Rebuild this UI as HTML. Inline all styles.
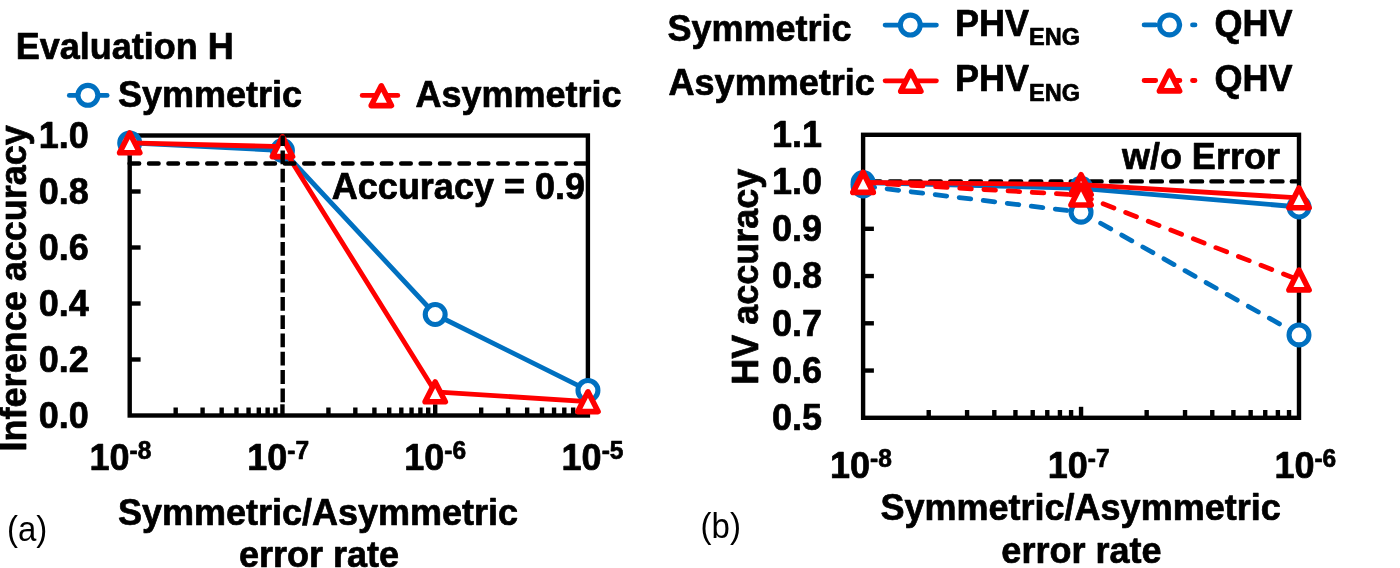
<!DOCTYPE html>
<html><head><meta charset="utf-8"><title>Evaluation H</title>
<style>html,body{margin:0;padding:0;background:#fff;}svg{display:block;}
text{font-family:"Liberation Sans",Arial,Helvetica,sans-serif;fill:#000;}text[font-weight=bold]{stroke:#000;stroke-width:0.7px;stroke-linejoin:round;}</style></head>
<body><svg width="1400" height="568" viewBox="0 0 1400 568">
<rect width="1400" height="568" fill="#fff"/>
<text transform="translate(15.80,58.60) scale(1,1.05)" font-size="36" font-weight="bold" text-anchor="start">Evaluation H</text>
<path d="M69.3,95.4 L107.1,95.4" fill="none" stroke="#0070C0" stroke-width="4.8" stroke-linecap="round" stroke-linejoin="round"/>
<circle cx="87.90" cy="95.30" r="9.95" fill="#fff" stroke="#0070C0" stroke-width="5.1"/>
<text transform="translate(117.90,106.50) scale(1,1.05)" font-size="36" font-weight="bold" text-anchor="start">Symmetric</text>
<path d="M362.2,95.4 L397.8,95.4" fill="none" stroke="#FF0000" stroke-width="4.8" stroke-linecap="round" stroke-linejoin="round"/>
<path d="M381.30,85.80 L391.40,105.60 L371.20,105.60 Z" fill="#fff" stroke="#FF0000" stroke-width="5.6" stroke-linejoin="round"/>
<text transform="translate(415.50,106.50) scale(1,1.05)" font-size="36" font-weight="bold" text-anchor="start">Asymmetric</text>
<rect x="129.7" y="135.5" width="458.20" height="280.00" fill="none" stroke="#000" stroke-width="4.4"/>
<line x1="129.70" y1="359.50" x2="140.60" y2="359.50" stroke="#000" stroke-width="4.4" stroke-linecap="butt"/>
<line x1="129.70" y1="303.50" x2="140.60" y2="303.50" stroke="#000" stroke-width="4.4" stroke-linecap="butt"/>
<line x1="129.70" y1="247.50" x2="140.60" y2="247.50" stroke="#000" stroke-width="4.4" stroke-linecap="butt"/>
<line x1="129.70" y1="191.50" x2="140.60" y2="191.50" stroke="#000" stroke-width="4.4" stroke-linecap="butt"/>
<line x1="175.68" y1="415.50" x2="175.68" y2="407.50" stroke="#000" stroke-width="4.4" stroke-linecap="butt"/>
<line x1="202.58" y1="415.50" x2="202.58" y2="407.50" stroke="#000" stroke-width="4.4" stroke-linecap="butt"/>
<line x1="221.66" y1="415.50" x2="221.66" y2="407.50" stroke="#000" stroke-width="4.4" stroke-linecap="butt"/>
<line x1="236.47" y1="415.50" x2="236.47" y2="407.50" stroke="#000" stroke-width="4.4" stroke-linecap="butt"/>
<line x1="248.56" y1="415.50" x2="248.56" y2="407.50" stroke="#000" stroke-width="4.4" stroke-linecap="butt"/>
<line x1="258.79" y1="415.50" x2="258.79" y2="407.50" stroke="#000" stroke-width="4.4" stroke-linecap="butt"/>
<line x1="267.65" y1="415.50" x2="267.65" y2="407.50" stroke="#000" stroke-width="4.4" stroke-linecap="butt"/>
<line x1="275.46" y1="415.50" x2="275.46" y2="407.50" stroke="#000" stroke-width="4.4" stroke-linecap="butt"/>
<line x1="328.43" y1="415.50" x2="328.43" y2="407.50" stroke="#000" stroke-width="4.4" stroke-linecap="butt"/>
<line x1="355.33" y1="415.50" x2="355.33" y2="407.50" stroke="#000" stroke-width="4.4" stroke-linecap="butt"/>
<line x1="374.41" y1="415.50" x2="374.41" y2="407.50" stroke="#000" stroke-width="4.4" stroke-linecap="butt"/>
<line x1="389.22" y1="415.50" x2="389.22" y2="407.50" stroke="#000" stroke-width="4.4" stroke-linecap="butt"/>
<line x1="401.31" y1="415.50" x2="401.31" y2="407.50" stroke="#000" stroke-width="4.4" stroke-linecap="butt"/>
<line x1="411.54" y1="415.50" x2="411.54" y2="407.50" stroke="#000" stroke-width="4.4" stroke-linecap="butt"/>
<line x1="420.40" y1="415.50" x2="420.40" y2="407.50" stroke="#000" stroke-width="4.4" stroke-linecap="butt"/>
<line x1="428.21" y1="415.50" x2="428.21" y2="407.50" stroke="#000" stroke-width="4.4" stroke-linecap="butt"/>
<line x1="481.18" y1="415.50" x2="481.18" y2="407.50" stroke="#000" stroke-width="4.4" stroke-linecap="butt"/>
<line x1="508.08" y1="415.50" x2="508.08" y2="407.50" stroke="#000" stroke-width="4.4" stroke-linecap="butt"/>
<line x1="527.16" y1="415.50" x2="527.16" y2="407.50" stroke="#000" stroke-width="4.4" stroke-linecap="butt"/>
<line x1="541.97" y1="415.50" x2="541.97" y2="407.50" stroke="#000" stroke-width="4.4" stroke-linecap="butt"/>
<line x1="554.06" y1="415.50" x2="554.06" y2="407.50" stroke="#000" stroke-width="4.4" stroke-linecap="butt"/>
<line x1="564.29" y1="415.50" x2="564.29" y2="407.50" stroke="#000" stroke-width="4.4" stroke-linecap="butt"/>
<line x1="573.15" y1="415.50" x2="573.15" y2="407.50" stroke="#000" stroke-width="4.4" stroke-linecap="butt"/>
<line x1="580.96" y1="415.50" x2="580.96" y2="407.50" stroke="#000" stroke-width="4.4" stroke-linecap="butt"/>
<line x1="282.45" y1="415.50" x2="282.45" y2="404.30" stroke="#000" stroke-width="4.4" stroke-linecap="butt"/>
<line x1="435.20" y1="415.50" x2="435.20" y2="404.30" stroke="#000" stroke-width="4.4" stroke-linecap="butt"/>
<text transform="translate(88.80,147.90) scale(1,1.05)" font-size="36" font-weight="bold" text-anchor="end">1.0</text>
<text transform="translate(88.80,203.90) scale(1,1.05)" font-size="36" font-weight="bold" text-anchor="end">0.8</text>
<text transform="translate(88.80,259.90) scale(1,1.05)" font-size="36" font-weight="bold" text-anchor="end">0.6</text>
<text transform="translate(88.80,315.90) scale(1,1.05)" font-size="36" font-weight="bold" text-anchor="end">0.4</text>
<text transform="translate(88.80,371.90) scale(1,1.05)" font-size="36" font-weight="bold" text-anchor="end">0.2</text>
<text transform="translate(88.80,427.90) scale(1,1.05)" font-size="36" font-weight="bold" text-anchor="end">0.0</text>
<text transform="translate(89.50,470.2) scale(1,1.05)" font-size="36" font-weight="bold">10<tspan font-size="24.5" dy="-10.6">-8</tspan></text>
<text transform="translate(247.20,470.2) scale(1,1.05)" font-size="36" font-weight="bold">10<tspan font-size="24.5" dy="-10.6">-7</tspan></text>
<text transform="translate(404.30,470.2) scale(1,1.05)" font-size="36" font-weight="bold">10<tspan font-size="24.5" dy="-10.6">-6</tspan></text>
<text transform="translate(561.60,470.2) scale(1,1.05)" font-size="36" font-weight="bold">10<tspan font-size="24.5" dy="-10.6">-5</tspan></text>
<text transform="translate(26.30,288.30) rotate(-90) scale(1,1.05)" font-size="36" font-weight="bold" text-anchor="middle">Inference accuracy</text>
<text transform="translate(318.00,525.30) scale(1,1.05)" font-size="36" font-weight="bold" text-anchor="middle">Symmetric/Asymmetric</text>
<text transform="translate(319.00,567.30) scale(1,1.05)" font-size="36" font-weight="bold" text-anchor="middle">error rate</text>
<text transform="translate(6.90,541.30) scale(1,1.05)" font-size="33" font-weight="normal" text-anchor="start">(a)</text>
<path d="M129.70,142.90 L282.45,150.50 L435.20,314.50 L587.95,390.40" fill="none" stroke="#0070C0" stroke-width="4.8" stroke-linecap="round" stroke-linejoin="round"/>
<circle cx="129.70" cy="142.90" r="9.95" fill="#fff" stroke="#0070C0" stroke-width="5.1"/>
<circle cx="282.45" cy="150.50" r="9.95" fill="#fff" stroke="#0070C0" stroke-width="5.1"/>
<circle cx="435.20" cy="314.50" r="9.95" fill="#fff" stroke="#0070C0" stroke-width="5.1"/>
<circle cx="587.95" cy="390.40" r="9.95" fill="#fff" stroke="#0070C0" stroke-width="5.1"/>
<path d="M129.70,142.80 L282.45,146.70 L435.20,391.80 L587.95,401.70" fill="none" stroke="#FF0000" stroke-width="4.8" stroke-linecap="round" stroke-linejoin="round"/>
<path d="M129.70,132.90 L139.80,152.70 L119.60,152.70 Z" fill="#fff" stroke="#FF0000" stroke-width="5.6" stroke-linejoin="round"/>
<path d="M282.45,136.80 L292.55,156.60 L272.35,156.60 Z" fill="#fff" stroke="#FF0000" stroke-width="5.6" stroke-linejoin="round"/>
<path d="M435.20,381.90 L445.30,401.70 L425.10,401.70 Z" fill="#fff" stroke="#FF0000" stroke-width="5.6" stroke-linejoin="round"/>
<path d="M587.95,391.80 L598.05,411.60 L577.85,411.60 Z" fill="#fff" stroke="#FF0000" stroke-width="5.6" stroke-linejoin="round"/>
<line x1="129.60" y1="163.50" x2="587.90" y2="163.50" stroke="#000" stroke-width="4.4" stroke-linecap="round" stroke-dasharray="9.6 9.8"/>
<line x1="282.70" y1="402.20" x2="282.70" y2="135.50" stroke="#000" stroke-width="4.4" stroke-linecap="butt" stroke-dasharray="13.8 4.5"/>
<text transform="translate(585.00,198.60) scale(1,1.05)" font-size="36" font-weight="bold" text-anchor="end">Accuracy = 0.9</text>
<text transform="translate(667.50,40.50) scale(1,1.05)" font-size="36" font-weight="bold" text-anchor="start">Symmetric</text>
<text transform="translate(668.60,95.40) scale(1,1.05)" font-size="36" font-weight="bold" text-anchor="start">Asymmetric</text>
<path d="M885.1,25.1 L936.4,25.1" fill="none" stroke="#0070C0" stroke-width="4.8" stroke-linecap="round" stroke-linejoin="round"/>
<circle cx="910.30" cy="25.10" r="9.95" fill="#fff" stroke="#0070C0" stroke-width="5.1"/>
<path d="M885.1,80.8 L936.4,80.8" fill="none" stroke="#FF0000" stroke-width="4.8" stroke-linecap="round" stroke-linejoin="round"/>
<path d="M910.80,71.50 L920.90,91.30 L900.70,91.30 Z" fill="#fff" stroke="#FF0000" stroke-width="5.6" stroke-linejoin="round"/>
<text transform="translate(955.0,36.0) scale(1,1.05)" font-size="36" font-weight="bold">PHV<tspan font-size="23.5" dy="9">ENG</tspan></text>
<text transform="translate(955.0,91.3) scale(1,1.05)" font-size="36" font-weight="bold">PHV<tspan font-size="23.5" dy="9">ENG</tspan></text>
<path d="M1144.1,24.9 L1195,24.9" fill="none" stroke="#0070C0" stroke-width="4.8" stroke-linecap="round" stroke-linejoin="round" stroke-dasharray="11.6 12.6"/>
<circle cx="1169.50" cy="24.90" r="9.95" fill="#fff" stroke="#0070C0" stroke-width="5.1"/>
<path d="M1144.1,80.5 L1195,80.5" fill="none" stroke="#FF0000" stroke-width="4.8" stroke-linecap="round" stroke-linejoin="round" stroke-dasharray="11.6 12.6"/>
<path d="M1169.50,71.10 L1179.60,90.90 L1159.40,90.90 Z" fill="#fff" stroke="#FF0000" stroke-width="5.6" stroke-linejoin="round"/>
<text transform="translate(1214.50,36.00) scale(1,1.05)" font-size="36" font-weight="bold" text-anchor="start">QHV</text>
<text transform="translate(1214.50,91.30) scale(1,1.05)" font-size="36" font-weight="bold" text-anchor="start">QHV</text>
<rect x="863.1" y="134.8" width="435.90" height="283.00" fill="none" stroke="#000" stroke-width="4.4"/>
<line x1="863.10" y1="370.55" x2="873.90" y2="370.55" stroke="#000" stroke-width="4.4" stroke-linecap="butt"/>
<line x1="863.10" y1="323.30" x2="873.90" y2="323.30" stroke="#000" stroke-width="4.4" stroke-linecap="butt"/>
<line x1="863.10" y1="276.05" x2="873.90" y2="276.05" stroke="#000" stroke-width="4.4" stroke-linecap="butt"/>
<line x1="863.10" y1="228.80" x2="873.90" y2="228.80" stroke="#000" stroke-width="4.4" stroke-linecap="butt"/>
<line x1="863.10" y1="181.55" x2="873.90" y2="181.55" stroke="#000" stroke-width="4.4" stroke-linecap="butt"/>
<line x1="928.71" y1="417.80" x2="928.71" y2="410.00" stroke="#000" stroke-width="4.4" stroke-linecap="butt"/>
<line x1="967.09" y1="417.80" x2="967.09" y2="410.00" stroke="#000" stroke-width="4.4" stroke-linecap="butt"/>
<line x1="994.32" y1="417.80" x2="994.32" y2="410.00" stroke="#000" stroke-width="4.4" stroke-linecap="butt"/>
<line x1="1015.44" y1="417.80" x2="1015.44" y2="410.00" stroke="#000" stroke-width="4.4" stroke-linecap="butt"/>
<line x1="1032.70" y1="417.80" x2="1032.70" y2="410.00" stroke="#000" stroke-width="4.4" stroke-linecap="butt"/>
<line x1="1047.29" y1="417.80" x2="1047.29" y2="410.00" stroke="#000" stroke-width="4.4" stroke-linecap="butt"/>
<line x1="1059.93" y1="417.80" x2="1059.93" y2="410.00" stroke="#000" stroke-width="4.4" stroke-linecap="butt"/>
<line x1="1071.08" y1="417.80" x2="1071.08" y2="410.00" stroke="#000" stroke-width="4.4" stroke-linecap="butt"/>
<line x1="1146.66" y1="417.80" x2="1146.66" y2="410.00" stroke="#000" stroke-width="4.4" stroke-linecap="butt"/>
<line x1="1185.04" y1="417.80" x2="1185.04" y2="410.00" stroke="#000" stroke-width="4.4" stroke-linecap="butt"/>
<line x1="1212.27" y1="417.80" x2="1212.27" y2="410.00" stroke="#000" stroke-width="4.4" stroke-linecap="butt"/>
<line x1="1233.39" y1="417.80" x2="1233.39" y2="410.00" stroke="#000" stroke-width="4.4" stroke-linecap="butt"/>
<line x1="1250.65" y1="417.80" x2="1250.65" y2="410.00" stroke="#000" stroke-width="4.4" stroke-linecap="butt"/>
<line x1="1265.24" y1="417.80" x2="1265.24" y2="410.00" stroke="#000" stroke-width="4.4" stroke-linecap="butt"/>
<line x1="1277.88" y1="417.80" x2="1277.88" y2="410.00" stroke="#000" stroke-width="4.4" stroke-linecap="butt"/>
<line x1="1289.03" y1="417.80" x2="1289.03" y2="410.00" stroke="#000" stroke-width="4.4" stroke-linecap="butt"/>
<line x1="1081.05" y1="417.80" x2="1081.05" y2="406.80" stroke="#000" stroke-width="4.4" stroke-linecap="butt"/>
<text transform="translate(822.00,146.70) scale(1,1.05)" font-size="36" font-weight="bold" text-anchor="end">1.1</text>
<text transform="translate(822.00,193.95) scale(1,1.05)" font-size="36" font-weight="bold" text-anchor="end">1.0</text>
<text transform="translate(822.00,241.20) scale(1,1.05)" font-size="36" font-weight="bold" text-anchor="end">0.9</text>
<text transform="translate(822.00,288.45) scale(1,1.05)" font-size="36" font-weight="bold" text-anchor="end">0.8</text>
<text transform="translate(822.00,335.70) scale(1,1.05)" font-size="36" font-weight="bold" text-anchor="end">0.7</text>
<text transform="translate(822.00,382.95) scale(1,1.05)" font-size="36" font-weight="bold" text-anchor="end">0.6</text>
<text transform="translate(822.00,430.20) scale(1,1.05)" font-size="36" font-weight="bold" text-anchor="end">0.5</text>
<text transform="translate(830.00,477.9) scale(1,1.05)" font-size="36" font-weight="bold">10<tspan font-size="24.5" dy="-10.6">-8</tspan></text>
<text transform="translate(1047.80,477.9) scale(1,1.05)" font-size="36" font-weight="bold">10<tspan font-size="24.5" dy="-10.6">-7</tspan></text>
<text transform="translate(1274.40,477.9) scale(1,1.05)" font-size="36" font-weight="bold">10<tspan font-size="24.5" dy="-10.6">-6</tspan></text>
<text transform="translate(757.90,276.80) rotate(-90) scale(1,1.05)" font-size="36" font-weight="bold" text-anchor="middle">HV accuracy</text>
<text transform="translate(1080.60,520.20) scale(1,1.05)" font-size="36" font-weight="bold" text-anchor="middle">Symmetric/Asymmetric</text>
<text transform="translate(1081.40,562.90) scale(1,1.05)" font-size="36" font-weight="bold" text-anchor="middle">error rate</text>
<text transform="translate(700.60,538.10) scale(1,1.05)" font-size="33" font-weight="normal" text-anchor="start">(b)</text>
<text transform="translate(1279.90,169.10) scale(1,1.05)" font-size="36" font-weight="bold" text-anchor="end">w/o Error</text>
<line x1="863.10" y1="181.40" x2="1299.00" y2="181.40" stroke="#000" stroke-width="4.4" stroke-linecap="round" stroke-dasharray="10.8 9.3" stroke-dashoffset="-6.6"/>
<path d="M863.10,182.50 L1081.05,188.30 L1299.00,207.00" fill="none" stroke="#0070C0" stroke-width="4.8" stroke-linecap="round" stroke-linejoin="round"/>
<circle cx="863.10" cy="182.50" r="9.95" fill="#fff" stroke="#0070C0" stroke-width="5.1"/>
<circle cx="1081.05" cy="188.30" r="9.95" fill="#fff" stroke="#0070C0" stroke-width="5.1"/>
<circle cx="1299.00" cy="207.00" r="9.95" fill="#fff" stroke="#0070C0" stroke-width="5.1"/>
<path d="M863.10,186.00 L1081.05,212.20 L1299.00,334.90" fill="none" stroke="#0070C0" stroke-width="4.8" stroke-linecap="round" stroke-linejoin="round" stroke-dasharray="11.6 12.6"/>
<circle cx="863.10" cy="186.00" r="9.95" fill="#fff" stroke="#0070C0" stroke-width="5.1"/>
<circle cx="1081.05" cy="212.20" r="9.95" fill="#fff" stroke="#0070C0" stroke-width="5.1"/>
<circle cx="1299.00" cy="334.90" r="9.95" fill="#fff" stroke="#0070C0" stroke-width="5.1"/>
<path d="M863.10,182.30 L1081.05,184.60 L1299.00,197.90" fill="none" stroke="#FF0000" stroke-width="4.8" stroke-linecap="round" stroke-linejoin="round"/>
<path d="M863.10,172.40 L873.20,192.20 L853.00,192.20 Z" fill="#fff" stroke="#FF0000" stroke-width="5.6" stroke-linejoin="round"/>
<path d="M1081.05,174.70 L1091.15,194.50 L1070.95,194.50 Z" fill="#fff" stroke="#FF0000" stroke-width="5.6" stroke-linejoin="round"/>
<path d="M1299.00,188.00 L1309.10,207.80 L1288.90,207.80 Z" fill="#fff" stroke="#FF0000" stroke-width="5.6" stroke-linejoin="round"/>
<path d="M863.10,182.50 L1081.05,195.10 L1299.00,280.00" fill="none" stroke="#FF0000" stroke-width="4.8" stroke-linecap="round" stroke-linejoin="round" stroke-dasharray="11.6 12.6"/>
<path d="M863.10,172.60 L873.20,192.40 L853.00,192.40 Z" fill="#fff" stroke="#FF0000" stroke-width="5.6" stroke-linejoin="round"/>
<path d="M1081.05,185.20 L1091.15,205.00 L1070.95,205.00 Z" fill="#fff" stroke="#FF0000" stroke-width="5.6" stroke-linejoin="round"/>
<path d="M1299.00,270.10 L1309.10,289.90 L1288.90,289.90 Z" fill="#fff" stroke="#FF0000" stroke-width="5.6" stroke-linejoin="round"/>
</svg></body></html>
